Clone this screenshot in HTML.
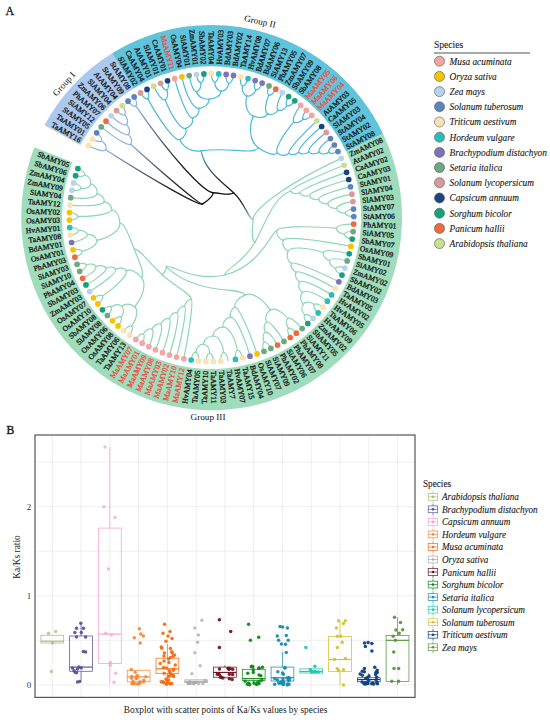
<!DOCTYPE html><html><head><meta charset="utf-8"><style>html,body{margin:0;padding:0;background:#fff;}svg{display:block;font-family:"Liberation Serif",serif;}</style></head><body>
<svg width="550" height="722" viewBox="0 0 550 722">
<path d="M44.44,125.35 A190.4,192.6848 0 0 1 112.13,53.3 L133.45,88.51 A149.6,151.3952 0 0 0 80.26,145.12Z" fill="#abc9f0"/>
<path d="M112.13,53.3 A190.4,192.6848 0 0 1 383,133.69 L346.27,151.67 A149.6,151.3952 0 0 0 133.45,88.51Z" fill="#5fc3dc"/>
<path d="M383,133.69 A190.4,192.6848 0 1 1 34.36,147.22 L72.34,162.3 A149.6,151.3952 0 1 0 346.27,151.67Z" fill="#9edcbc"/>
<defs><linearGradient id="g1" gradientUnits="userSpaceOnUse" x1="202.53" y1="204.02" x2="105.65" y2="149.71"><stop offset="0" stop-color="#111"/><stop offset="0.35" stop-color="#222"/><stop offset="1" stop-color="#8fb2e4"/></linearGradient><linearGradient id="g2" gradientUnits="userSpaceOnUse" x1="202.53" y1="204.02" x2="130.73" y2="144.24"><stop offset="0" stop-color="#111"/><stop offset="0.35" stop-color="#222"/><stop offset="1" stop-color="#8fb2e4"/></linearGradient><linearGradient id="g3" gradientUnits="userSpaceOnUse" x1="213.16" y1="192.75" x2="135.84" y2="105.99"><stop offset="0" stop-color="#111"/><stop offset="0.35" stop-color="#222"/><stop offset="1" stop-color="#8fb2e4"/></linearGradient><linearGradient id="g4" gradientUnits="userSpaceOnUse" x1="233.57" y1="192.68" x2="201.17" y2="150.93"><stop offset="0" stop-color="#111"/><stop offset="0.35" stop-color="#222"/><stop offset="1" stop-color="#4fb9d9"/></linearGradient><linearGradient id="g5" gradientUnits="userSpaceOnUse" x1="233.57" y1="192.68" x2="252.96" y2="219.43"><stop offset="0" stop-color="#111"/><stop offset="0.35" stop-color="#222"/><stop offset="1" stop-color="#8ed7b4"/></linearGradient></defs>
<g fill="none" stroke-width="1.2" stroke-linecap="round"><path d="M202.53,204.02 C199.49,206.1 156.4,182.22 105.65,149.71" stroke="url(#g1)" stroke-width="1.3"/><path d="M105.65,149.71 C104.21,152.02 96.57,150.12 88.58,145.43" stroke="#8fb2e4"/><path d="M105.65,149.71 C107.1,147.4 105.25,143.39 101.44,140.74" stroke="#8fb2e4"/><path d="M101.44,140.74 C100.35,142.34 96.33,141.59 92.46,139.03" stroke="#8fb2e4"/><path d="M101.44,140.74 C102.53,139.14 100.41,135.6 96.67,132.85" stroke="#8fb2e4"/><path d="M202.53,204.02 C200.72,205.26 168.58,178.57 130.73,144.24" stroke="url(#g2)" stroke-width="1.3"/><path d="M130.73,144.24 C128.78,146.44 115.55,138.69 101.2,126.9" stroke="#8fb2e4"/><path d="M130.73,144.24 C132.68,142.04 131.69,137.64 128.4,134.35" stroke="#8fb2e4"/><path d="M128.4,134.35 C126.34,136.46 116.31,130.59 106.02,121.2" stroke="#8fb2e4"/><path d="M128.4,134.35 C130.47,132.24 129.68,127.78 126.55,124.35" stroke="#8fb2e4"/><path d="M126.55,124.35 C124.56,126.2 117.67,122.37 111.14,115.75" stroke="#8fb2e4"/><path d="M126.55,124.35 C128.53,122.49 127.76,118.14 124.77,114.58" stroke="#8fb2e4"/><path d="M124.77,114.58 C123.31,115.84 119.61,114.07 116.52,110.59" stroke="#8fb2e4"/><path d="M124.77,114.58 C126.23,113.32 125.07,109.35 122.17,105.72" stroke="#8fb2e4"/><path d="M202.53,204.02 C207.38,200.7 212.87,197.42 213.16,192.75" stroke="#111" stroke-width="1.3"/><path d="M213.16,192.75 C204.18,192.18 169.85,156.09 135.84,105.99" stroke="url(#g3)" stroke-width="1.3"/><path d="M135.84,105.99 C134.26,107.09 130.77,104.93 128.06,101.15" stroke="#8fb2e4"/><path d="M135.84,105.99 C137.43,104.89 136.69,100.82 134.17,96.9" stroke="#8fb2e4"/><path d="M213.16,192.75 C222.14,193.33 230.5,196.17 233.57,192.68" stroke="#111" stroke-width="1.3"/><path d="M233.57,192.68 C221.58,181.85 204.07,169.46 201.17,150.93" stroke="url(#g4)" stroke-width="1.3"/><path d="M201.17,150.93 C192.69,152.29 183.31,148.17 179.81,139.57" stroke="#4fb9d9"/><path d="M179.81,139.57 C175.3,141.46 160.97,123.26 147.75,98.61" stroke="#4fb9d9"/><path d="M147.75,98.61 C146.06,99.54 142.81,97.02 140.5,92.97" stroke="#4fb9d9"/><path d="M147.75,98.61 C149.43,97.68 149.12,93.56 147.02,89.39" stroke="#4fb9d9"/><path d="M179.81,139.57 C184.32,137.69 187.11,132.92 185.82,128.44" stroke="#4fb9d9"/><path d="M185.82,128.44 C181.19,129.81 171.93,117.12 165.08,99.75" stroke="#4fb9d9"/><path d="M165.08,99.75 C162.57,100.77 157.48,94.7 153.72,86.16" stroke="#4fb9d9"/><path d="M165.08,99.75 C167.58,98.74 168.4,94.4 166.86,89.99" stroke="#4fb9d9"/><path d="M166.86,89.99 C165.05,90.64 162.23,87.64 160.57,83.28" stroke="#4fb9d9"/><path d="M166.86,89.99 C168.67,89.34 168.99,85.21 167.56,80.77" stroke="#4fb9d9"/><path d="M185.82,128.44 C190.44,127.07 193.62,122.6 192.75,118.01" stroke="#4fb9d9"/><path d="M192.75,118.01 C188.77,118.78 180.67,101.21 174.68,78.63" stroke="#4fb9d9"/><path d="M192.75,118.01 C196.72,117.24 199.58,113.08 199.04,108.43" stroke="#4fb9d9"/><path d="M199.04,108.43 C193.43,109.1 185.75,95.16 181.89,76.87" stroke="#4fb9d9"/><path d="M199.04,108.43 C204.65,107.77 209.2,103.9 209.11,99.22" stroke="#4fb9d9"/><path d="M209.11,99.22 C202.81,99.36 197.24,96.24 196.69,91.6" stroke="#4fb9d9"/><path d="M196.69,91.6 C194.01,91.92 190.64,84.73 189.18,75.49" stroke="#4fb9d9"/><path d="M196.69,91.6 C199.37,91.27 201.27,87.29 200.9,82.63" stroke="#4fb9d9"/><path d="M200.9,82.63 C198.99,82.78 197.03,79.15 196.54,74.5" stroke="#4fb9d9"/><path d="M200.9,82.63 C202.82,82.47 204.18,78.57 203.93,73.9" stroke="#4fb9d9"/><path d="M209.11,99.22 C215.4,99.09 220.83,95.73 221.19,91.07" stroke="#4fb9d9"/><path d="M221.19,91.07 C217.6,90.79 214.74,86.91 214.86,82.23" stroke="#4fb9d9"/><path d="M214.86,82.23 C212.94,82.19 211.36,78.37 211.35,73.69" stroke="#4fb9d9"/><path d="M214.86,82.23 C216.78,82.28 218.54,78.55 218.77,73.88" stroke="#4fb9d9"/><path d="M221.19,91.07 C224.78,91.35 228.18,87.95 228.77,83.31" stroke="#4fb9d9"/><path d="M228.77,83.31 C226.87,83.07 225.69,79.1 226.17,74.45" stroke="#4fb9d9"/><path d="M228.77,83.31 C230.68,83.56 232.81,80.03 233.53,75.41" stroke="#4fb9d9"/><path d="M201.17,150.93 C228.47,146.55 253.28,155.46 258.44,147.77" stroke="#4fb9d9"/><path d="M258.44,147.77 C250.72,142.46 247.87,129.03 253.18,116.07" stroke="#4fb9d9"/><path d="M253.18,116.07 C247.24,113.58 244.29,104.8 246.89,95.82" stroke="#4fb9d9"/><path d="M246.89,95.82 C243.44,94.8 241.44,90.41 242.51,85.86" stroke="#4fb9d9"/><path d="M242.51,85.86 C240.64,85.41 239.88,81.34 240.83,76.77" stroke="#4fb9d9"/><path d="M242.51,85.86 C244.37,86.3 246.86,83.02 248.04,78.5" stroke="#4fb9d9"/><path d="M246.89,95.82 C250.34,96.85 254.37,94.24 255.9,89.83" stroke="#4fb9d9"/><path d="M255.9,89.83 C254.09,89.19 253.75,85.06 255.16,80.61" stroke="#4fb9d9"/><path d="M255.9,89.83 C257.71,90.47 260.52,87.47 262.17,83.1" stroke="#4fb9d9"/><path d="M253.18,116.07 C259.12,118.56 265.53,117.82 267.75,113.72" stroke="#4fb9d9"/><path d="M267.75,113.72 C264.43,111.89 264.86,103.65 268.81,95.2" stroke="#4fb9d9"/><path d="M268.81,95.2 C267.08,94.37 267.16,90.23 269.03,85.95" stroke="#4fb9d9"/><path d="M268.81,95.2 C270.55,96.03 273.65,93.34 275.74,89.16" stroke="#4fb9d9"/><path d="M267.75,113.72 C271.06,115.56 275.68,113.99 278.13,110.03" stroke="#4fb9d9"/><path d="M278.13,110.03 C275.84,108.58 277.68,100.84 282.27,92.72" stroke="#4fb9d9"/><path d="M278.13,110.03 C280.42,111.48 284.37,109.58 286.97,105.72" stroke="#4fb9d9"/><path d="M286.97,105.72 C285.38,104.63 286.11,100.55 288.61,96.62" stroke="#4fb9d9"/><path d="M286.97,105.72 C288.56,106.82 292.04,104.65 294.74,100.85" stroke="#4fb9d9"/><path d="M258.44,147.77 C266.16,153.07 274.13,156.12 277.44,152.86" stroke="#4fb9d9"/><path d="M277.44,152.86 C274.48,149.78 281.76,135.95 293.89,121.84" stroke="#4fb9d9"/><path d="M293.89,121.84 C291.85,120.05 294.86,112.69 300.65,105.4" stroke="#4fb9d9"/><path d="M293.89,121.84 C295.93,123.63 300.12,122.39 303.29,118.98" stroke="#4fb9d9"/><path d="M303.29,118.98 C301.89,117.65 303.23,113.74 306.31,110.25" stroke="#4fb9d9"/><path d="M303.29,118.98 C304.68,120.31 308.46,118.72 311.71,115.4" stroke="#4fb9d9"/><path d="M277.44,152.86 C280.39,155.94 285.5,156.25 289.07,153.29" stroke="#4fb9d9"/><path d="M289.07,153.29 C287.3,151.11 299.75,136.54 316.84,120.82" stroke="#4fb9d9"/><path d="M289.07,153.29 C290.84,155.47 295.22,155.06 298.94,152.28" stroke="#4fb9d9"/><path d="M298.94,152.28 C297.2,149.9 307.38,138.35 321.69,126.51" stroke="#4fb9d9"/><path d="M298.94,152.28 C300.67,154.66 305.13,154.56 308.98,151.97" stroke="#4fb9d9"/><path d="M308.98,151.97 C307.35,149.49 315.06,140.75 326.23,132.45" stroke="#4fb9d9"/><path d="M308.98,151.97 C310.61,154.44 315.08,154.56 319.04,152.15" stroke="#4fb9d9"/><path d="M319.04,152.15 C317.64,149.81 322.74,143.75 330.47,138.61" stroke="#4fb9d9"/><path d="M319.04,152.15 C320.43,154.49 324.8,154.61 328.84,152.36" stroke="#4fb9d9"/><path d="M328.84,152.36 C327.92,150.65 330.39,147.35 334.37,145" stroke="#4fb9d9"/><path d="M328.84,152.36 C329.77,154.06 333.84,153.72 337.95,151.58" stroke="#4fb9d9"/><path d="M233.57,192.68 C245.57,203.52 248.35,219.22 252.96,219.43" stroke="url(#g5)" stroke-width="1.3"/><path d="M252.96,219.43 C253.43,208.65 290.66,181.44 341.18,158.33" stroke="#8ed7b4"/><path d="M252.96,219.43 C252.5,230.2 250.99,239.99 255.02,242.28" stroke="#8ed7b4"/><path d="M255.02,242.28 C266.18,222.16 273.21,196.9 290.75,191.01" stroke="#8ed7b4"/><path d="M290.75,191.01 C290,188.73 313.93,177.16 344.06,165.26" stroke="#8ed7b4"/><path d="M290.75,191.01 C291.5,193.29 295.65,194.18 300.11,192.93" stroke="#8ed7b4"/><path d="M300.11,192.93 C299.42,190.4 320.27,181.15 346.58,172.32" stroke="#8ed7b4"/><path d="M300.11,192.93 C300.79,195.47 304.93,196.74 309.44,195.73" stroke="#8ed7b4"/><path d="M309.44,195.73 C308.84,192.98 326.45,185.69 348.73,179.51" stroke="#8ed7b4"/><path d="M309.44,195.73 C310.04,198.49 314.14,200.13 318.69,199.35" stroke="#8ed7b4"/><path d="M318.69,199.35 C318.21,196.44 332.45,190.8 350.5,186.8" stroke="#8ed7b4"/><path d="M318.69,199.35 C319.18,202.27 323.2,204.23 327.79,203.68" stroke="#8ed7b4"/><path d="M327.79,203.68 C327.44,200.72 338.23,196.45 351.9,194.17" stroke="#8ed7b4"/><path d="M327.79,203.68 C328.13,206.63 332.07,208.78 336.67,208.44" stroke="#8ed7b4"/><path d="M336.67,208.44 C336.48,205.72 343.74,202.65 352.92,201.61" stroke="#8ed7b4"/><path d="M336.67,208.44 C336.87,211.17 340.71,213.28 345.33,213.12" stroke="#8ed7b4"/><path d="M345.33,213.12 C345.26,211.18 348.94,209.37 353.55,209.09" stroke="#8ed7b4"/><path d="M345.33,213.12 C345.39,215.06 349.18,216.63 353.8,216.6" stroke="#8ed7b4"/><path d="M255.02,242.28 C243.86,262.39 223.65,270.43 224.69,274.99" stroke="#8ed7b4"/><path d="M224.69,274.99 C260.54,266.61 272.41,229.73 276.94,230.63" stroke="#8ed7b4"/><path d="M276.94,230.63 C277.72,226.62 304.33,225.53 336.55,228.29" stroke="#8ed7b4"/><path d="M336.55,228.29 C336.78,225.57 344.42,223.68 353.65,224.1" stroke="#8ed7b4"/><path d="M336.55,228.29 C336.33,231.01 339.8,233.7 344.38,234.28" stroke="#8ed7b4"/><path d="M344.38,234.28 C344.62,232.35 348.53,231.14 353.13,231.59" stroke="#8ed7b4"/><path d="M344.38,234.28 C344.14,236.21 347.64,238.35 352.21,239.04" stroke="#8ed7b4"/><path d="M276.94,230.63 C276.16,234.65 278.73,238.98 283.14,240.39" stroke="#8ed7b4"/><path d="M283.14,240.39 C284.42,236.28 314.71,238.94 350.92,246.44" stroke="#8ed7b4"/><path d="M283.14,240.39 C281.86,244.49 283.91,249.24 288.15,251.09" stroke="#8ed7b4"/><path d="M288.15,251.09 C290.13,246.47 305.73,247.03 323.39,252.55" stroke="#8ed7b4"/><path d="M323.39,252.55 C324.26,249.71 335.82,250.23 349.24,253.75" stroke="#8ed7b4"/><path d="M323.39,252.55 C322.52,255.39 325.25,258.97 329.6,260.55" stroke="#8ed7b4"/><path d="M329.6,260.55 C330.51,257.98 338.38,258.15 347.19,260.97" stroke="#8ed7b4"/><path d="M329.6,260.55 C328.69,263.12 331.35,266.63 335.64,268.38" stroke="#8ed7b4"/><path d="M335.64,268.38 C336.36,266.58 340.44,266.43 344.77,268.07" stroke="#8ed7b4"/><path d="M335.64,268.38 C334.92,270.18 337.75,273.16 341.99,275.03" stroke="#8ed7b4"/><path d="M288.15,251.09 C286.18,255.71 287.41,261.17 291.42,263.48" stroke="#8ed7b4"/><path d="M291.42,263.48 C292.77,261.09 314.04,269.31 338.85,281.83" stroke="#8ed7b4"/><path d="M291.42,263.48 C290.08,265.87 292.05,269.82 295.94,272.35" stroke="#8ed7b4"/><path d="M295.94,272.35 C297.59,269.74 315.26,276.95 335.36,288.46" stroke="#8ed7b4"/><path d="M295.94,272.35 C294.29,274.95 295.88,279.23 299.62,281.97" stroke="#8ed7b4"/><path d="M299.62,281.97 C301.68,279.1 315.96,284.85 331.54,294.9" stroke="#8ed7b4"/><path d="M299.62,281.97 C297.57,284.85 298.67,289.51 302.25,292.46" stroke="#8ed7b4"/><path d="M302.25,292.46 C304.9,289.17 316.11,292.98 327.4,301.13" stroke="#8ed7b4"/><path d="M302.25,292.46 C299.59,295.75 300,300.89 303.38,304.08" stroke="#8ed7b4"/><path d="M303.38,304.08 C305.83,301.41 310.61,301.57 314.15,304.57" stroke="#8ed7b4"/><path d="M314.15,304.57 C315.38,303.08 319.32,304.22 322.93,307.12" stroke="#8ed7b4"/><path d="M314.15,304.57 C312.92,306.06 314.7,309.78 318.17,312.88" stroke="#8ed7b4"/><path d="M303.38,304.08 C300.93,306.74 301.43,311.55 304.64,314.91" stroke="#8ed7b4"/><path d="M304.64,314.91 C306.02,313.56 309.81,315.1 313.11,318.38" stroke="#8ed7b4"/><path d="M304.64,314.91 C303.26,316.26 304.65,320.15 307.78,323.6" stroke="#8ed7b4"/><path d="M224.69,274.99 C194.21,282.11 169.33,263.47 166.18,266.89" stroke="#8ed7b4"/><path d="M166.18,266.89 C197.36,296.32 241.39,286.33 245.1,294.89" stroke="#8ed7b4"/><path d="M245.1,294.89 C251.68,291.97 262.72,298.32 270.2,310.13" stroke="#8ed7b4"/><path d="M270.2,310.13 C274.3,307.47 282.04,311.08 287.64,318.51" stroke="#8ed7b4"/><path d="M287.64,318.51 C289.79,316.86 296.3,321.32 302.18,328.53" stroke="#8ed7b4"/><path d="M287.64,318.51 C285.49,320.17 285.85,324.58 288.51,328.4" stroke="#8ed7b4"/><path d="M288.51,328.4 C290.08,327.29 293.59,329.41 296.34,333.16" stroke="#8ed7b4"/><path d="M288.51,328.4 C286.94,329.52 287.72,333.58 290.27,337.48" stroke="#8ed7b4"/><path d="M270.2,310.13 C266.1,312.79 264.33,318.03 266.5,322.16" stroke="#8ed7b4"/><path d="M266.5,322.16 C269.09,320.77 276.93,329.39 283.99,341.47" stroke="#8ed7b4"/><path d="M266.5,322.16 C263.9,323.56 263.34,328.04 265.32,332.27" stroke="#8ed7b4"/><path d="M265.32,332.27 C267.76,331.1 273.22,336.83 277.5,345.12" stroke="#8ed7b4"/><path d="M265.32,332.27 C262.89,333.44 262.33,337.83 264.15,342.13" stroke="#8ed7b4"/><path d="M264.15,342.13 C265.91,341.36 268.92,344.17 270.84,348.42" stroke="#8ed7b4"/><path d="M264.15,342.13 C262.38,342.89 262.31,347.03 264.02,351.37" stroke="#8ed7b4"/><path d="M245.1,294.89 C238.53,297.81 233.75,302.93 234.92,307.45" stroke="#8ed7b4"/><path d="M234.92,307.45 C238.26,306.57 248.19,327.38 257.05,353.96" stroke="#8ed7b4"/><path d="M234.92,307.45 C231.57,308.34 229.5,312.62 230.36,317.21" stroke="#8ed7b4"/><path d="M230.36,317.21 C234.95,316.32 243.73,333.66 249.96,356.17" stroke="#8ed7b4"/><path d="M230.36,317.21 C225.77,318.09 222.35,322.26 222.82,326.91" stroke="#8ed7b4"/><path d="M222.82,326.91 C217.4,327.49 212.97,331.32 213.03,336" stroke="#8ed7b4"/><path d="M213.03,336 C207.99,336.06 203.63,339.56 203.32,344.23" stroke="#8ed7b4"/><path d="M203.32,344.23 C199.73,343.99 196.36,347.42 195.82,352.06" stroke="#8ed7b4"/><path d="M195.82,352.06 C197.72,352.29 198.94,356.24 198.51,360.9" stroke="#8ed7b4"/><path d="M195.82,352.06 C193.91,351.83 191.81,355.38 191.15,360.01" stroke="#8ed7b4"/><path d="M203.32,344.23 C206.91,344.47 209.81,348.32 209.74,352.99" stroke="#8ed7b4"/><path d="M209.74,352.99 C211.66,353.02 213.28,356.82 213.34,361.5" stroke="#8ed7b4"/><path d="M209.74,352.99 C207.82,352.97 206.1,356.72 205.92,361.39" stroke="#8ed7b4"/><path d="M213.03,336 C218.07,335.93 222.86,343.14 223.69,352.45" stroke="#8ed7b4"/><path d="M223.69,352.45 C225.6,352.28 227.6,355.89 228.14,360.53" stroke="#8ed7b4"/><path d="M223.69,352.45 C221.78,352.63 220.45,356.54 220.75,361.21" stroke="#8ed7b4"/><path d="M222.82,326.91 C228.25,326.34 234.82,336.68 237.51,350.44" stroke="#8ed7b4"/><path d="M237.51,350.44 C239.39,350.07 241.75,353.45 242.77,358.01" stroke="#8ed7b4"/><path d="M237.51,350.44 C235.62,350.82 234.71,354.85 235.49,359.46" stroke="#8ed7b4"/><path d="M166.18,266.89 C167.02,267.68 165.24,271.18 162.19,274.7" stroke="#8ed7b4"/><path d="M162.19,274.7 C176.81,287.65 192.24,294.88 191.1,299.41" stroke="#8ed7b4"/><path d="M191.1,299.41 C193.41,300 190.15,326.64 183.83,358.74" stroke="#8ed7b4"/><path d="M191.1,299.41 C188.8,298.82 185.83,301.88 184.46,306.35" stroke="#8ed7b4"/><path d="M184.46,306.35 C186.94,307.13 183.42,329.89 176.6,357.08" stroke="#8ed7b4"/><path d="M184.46,306.35 C181.99,305.57 178.7,308.41 177.11,312.8" stroke="#8ed7b4"/><path d="M177.11,312.8 C179.72,313.77 176.3,332.71 169.46,355.04" stroke="#8ed7b4"/><path d="M177.11,312.8 C174.49,311.83 170.92,314.44 169.11,318.74" stroke="#8ed7b4"/><path d="M169.11,318.74 C171.8,319.9 168.82,335.08 162.43,352.63" stroke="#8ed7b4"/><path d="M169.11,318.74 C166.42,317.58 162.62,319.96 160.61,324.17" stroke="#8ed7b4"/><path d="M160.61,324.17 C163.26,325.46 161,336.96 155.54,349.85" stroke="#8ed7b4"/><path d="M160.61,324.17 C157.97,322.87 154.06,325.07 151.86,329.18" stroke="#8ed7b4"/><path d="M151.86,329.18 C154.23,330.48 152.88,338.32 148.8,346.71" stroke="#8ed7b4"/><path d="M151.86,329.18 C149.48,327.87 145.66,330.01 143.3,334.03" stroke="#8ed7b4"/><path d="M143.3,334.03 C144.95,335.03 144.48,339.14 142.23,343.22" stroke="#8ed7b4"/><path d="M143.3,334.03 C141.65,333.04 138.31,335.43 135.85,339.39" stroke="#8ed7b4"/><path d="M162.19,274.7 C147.58,261.75 138.46,247.22 134.17,248.96" stroke="#8ed7b4"/><path d="M134.17,248.96 C139.67,262.86 145.1,274.65 141.58,277.68" stroke="#8ed7b4"/><path d="M141.58,277.68 C146.45,283.49 143.72,296.18 134.59,306.74" stroke="#8ed7b4"/><path d="M134.59,306.74 C138.39,310.1 137.2,318.7 131.68,326.2" stroke="#8ed7b4"/><path d="M131.68,326.2 C133.22,327.36 132.33,331.4 129.67,335.22" stroke="#8ed7b4"/><path d="M131.68,326.2 C130.14,325.04 126.58,327.06 123.72,330.74" stroke="#8ed7b4"/><path d="M134.59,306.74 C130.8,303.39 125.24,303.05 121.94,306.32" stroke="#8ed7b4"/><path d="M121.94,306.32 C124.45,308.92 124.07,313.75 120.94,317.18" stroke="#8ed7b4"/><path d="M120.94,317.18 C122.35,318.5 121.05,322.42 118.01,325.94" stroke="#8ed7b4"/><path d="M120.94,317.18 C119.53,315.87 115.77,317.5 112.55,320.86" stroke="#8ed7b4"/><path d="M121.94,306.32 C119.42,303.71 114.65,303.99 111.18,307.08" stroke="#8ed7b4"/><path d="M111.18,307.08 C112.45,308.54 110.75,312.31 107.36,315.49" stroke="#8ed7b4"/><path d="M111.18,307.08 C109.91,305.62 106.01,306.85 102.46,309.85" stroke="#8ed7b4"/><path d="M141.58,277.68 C136.71,271.86 130.32,268.49 126.39,270.95" stroke="#8ed7b4"/><path d="M126.39,270.95 C128.23,273.96 117.58,285.18 102.52,296.01" stroke="#8ed7b4"/><path d="M102.52,296.01 C103.63,297.59 101.55,301.16 97.86,303.96" stroke="#8ed7b4"/><path d="M102.52,296.01 C101.4,294.42 97.39,295.24 93.56,297.84" stroke="#8ed7b4"/><path d="M126.39,270.95 C124.54,267.93 119.87,267.16 115.8,269.36" stroke="#8ed7b4"/><path d="M115.8,269.36 C117.17,271.97 105.44,281.9 89.58,291.5" stroke="#8ed7b4"/><path d="M115.8,269.36 C114.42,266.75 109.99,266.19 105.82,268.19" stroke="#8ed7b4"/><path d="M105.82,268.19 C107.07,270.88 98.19,278.39 85.94,284.96" stroke="#8ed7b4"/><path d="M105.82,268.19 C104.56,265.5 100.16,264.72 95.89,266.53" stroke="#8ed7b4"/><path d="M95.89,266.53 C96.94,269.05 91.02,274.3 82.64,278.24" stroke="#8ed7b4"/><path d="M95.89,266.53 C94.85,264.01 90.55,263.24 86.22,264.88" stroke="#8ed7b4"/><path d="M86.22,264.88 C86.89,266.7 83.98,269.6 79.69,271.35" stroke="#8ed7b4"/><path d="M86.22,264.88 C85.55,263.06 81.47,262.79 77.1,264.31" stroke="#8ed7b4"/><path d="M134.17,248.96 C128.67,235.06 124.57,222.73 119.96,223.01" stroke="#8ed7b4"/><path d="M119.96,223.01 C120.35,229.91 110.39,237.68 96.79,240.38" stroke="#8ed7b4"/><path d="M96.79,240.38 C97.51,244.13 90.98,249.07 82.04,251.4" stroke="#8ed7b4"/><path d="M82.04,251.4 C82.51,253.28 79.32,255.86 74.87,257.15" stroke="#8ed7b4"/><path d="M82.04,251.4 C81.56,249.52 77.52,248.83 73.02,249.87" stroke="#8ed7b4"/><path d="M96.79,240.38 C96.06,236.63 91.92,234.04 87.34,234.66" stroke="#8ed7b4"/><path d="M87.34,234.66 C87.7,237.37 80.65,240.9 71.55,242.51" stroke="#8ed7b4"/><path d="M87.34,234.66 C86.98,231.96 83.01,230.1 78.41,230.54" stroke="#8ed7b4"/><path d="M78.41,230.54 C78.6,232.48 75.04,234.52 70.45,235.09" stroke="#8ed7b4"/><path d="M78.41,230.54 C78.23,228.61 74.35,227.29 69.74,227.61" stroke="#8ed7b4"/><path d="M119.96,223.01 C119.56,216.1 116.3,210.15 111.7,209.79" stroke="#8ed7b4"/><path d="M111.7,209.79 C111.99,205.98 108.72,202.33 104.15,201.65" stroke="#8ed7b4"/><path d="M104.15,201.65 C104.66,198.14 101.56,194.52 97.03,193.57" stroke="#8ed7b4"/><path d="M97.03,193.57 C97.89,189.41 95.18,185.05 90.73,183.8" stroke="#8ed7b4"/><path d="M90.73,183.8 C91.69,180.29 89.05,176.26 84.67,174.78" stroke="#8ed7b4"/><path d="M84.67,174.78 C84.06,176.62 79.99,177.03 75.57,175.67" stroke="#8ed7b4"/><path d="M84.67,174.78 C85.27,172.94 82.26,170.14 77.92,168.55" stroke="#8ed7b4"/><path d="M90.73,183.8 C89.77,187.31 85.46,189.41 80.95,188.4" stroke="#8ed7b4"/><path d="M80.95,188.4 C80.53,190.29 76.53,191.13 71.99,190.24" stroke="#8ed7b4"/><path d="M80.95,188.4 C81.36,186.5 78.08,184.03 73.59,182.91" stroke="#8ed7b4"/><path d="M97.03,193.57 C96.18,197.73 84.5,199.59 70.77,197.65" stroke="#8ed7b4"/><path d="M104.15,201.65 C103.64,205.16 88.35,206.73 69.94,205.11" stroke="#8ed7b4"/><path d="M111.7,209.79 C111.41,213.59 96.28,216.59 77.8,216.43" stroke="#8ed7b4"/><path d="M77.8,216.43 C77.79,218.37 74.04,220.03 69.42,220.11" stroke="#8ed7b4"/><path d="M77.8,216.43 C77.82,214.49 74.1,212.77 69.49,212.6" stroke="#8ed7b4"/></g>
<circle cx="88.58" cy="145.43" r="2.85" fill="#fbe2b2"/>
<circle cx="92.46" cy="139.03" r="2.85" fill="#fbe2b2"/>
<circle cx="96.67" cy="132.85" r="2.85" fill="#5b86bd"/>
<circle cx="101.2" cy="126.9" r="2.85" fill="#6fa782"/>
<circle cx="106.02" cy="121.2" r="2.85" fill="#f06a40"/>
<circle cx="111.14" cy="115.75" r="2.85" fill="#b9d3ee"/>
<circle cx="116.52" cy="110.59" r="2.85" fill="#d99a98"/>
<circle cx="122.17" cy="105.72" r="2.85" fill="#c8e090"/>
<circle cx="128.06" cy="101.15" r="2.85" fill="#5b86bd"/>
<circle cx="134.17" cy="96.9" r="2.85" fill="#5b86bd"/>
<circle cx="140.5" cy="92.97" r="2.85" fill="#d99a98"/>
<circle cx="147.02" cy="89.39" r="2.85" fill="#1a4480"/>
<circle cx="153.72" cy="86.16" r="2.85" fill="#c8e090"/>
<circle cx="160.57" cy="83.28" r="2.85" fill="#d99a98"/>
<circle cx="167.56" cy="80.77" r="2.85" fill="#1a4480"/>
<circle cx="174.68" cy="78.63" r="2.85" fill="#f4a4a4"/>
<circle cx="181.89" cy="76.87" r="2.85" fill="#f5c400"/>
<circle cx="189.18" cy="75.49" r="2.85" fill="#6fa782"/>
<circle cx="196.54" cy="74.5" r="2.85" fill="#b9d3ee"/>
<circle cx="203.93" cy="73.9" r="2.85" fill="#16a07e"/>
<circle cx="211.35" cy="73.69" r="2.85" fill="#fbe2b2"/>
<circle cx="218.77" cy="73.88" r="2.85" fill="#2bbcbc"/>
<circle cx="226.17" cy="74.45" r="2.85" fill="#7d73b8"/>
<circle cx="233.53" cy="75.41" r="2.85" fill="#7d73b8"/>
<circle cx="240.83" cy="76.77" r="2.85" fill="#fbe2b2"/>
<circle cx="248.04" cy="78.5" r="2.85" fill="#2bbcbc"/>
<circle cx="255.16" cy="80.61" r="2.85" fill="#7d73b8"/>
<circle cx="262.17" cy="83.1" r="2.85" fill="#7d73b8"/>
<circle cx="269.03" cy="85.95" r="2.85" fill="#6fa782"/>
<circle cx="275.74" cy="89.16" r="2.85" fill="#f06a40"/>
<circle cx="282.27" cy="92.72" r="2.85" fill="#b9d3ee"/>
<circle cx="288.61" cy="96.62" r="2.85" fill="#16a07e"/>
<circle cx="294.74" cy="100.85" r="2.85" fill="#16a07e"/>
<circle cx="300.65" cy="105.4" r="2.85" fill="#f4a4a4"/>
<circle cx="306.31" cy="110.25" r="2.85" fill="#f4a4a4"/>
<circle cx="311.71" cy="115.4" r="2.85" fill="#f4a4a4"/>
<circle cx="316.84" cy="120.82" r="2.85" fill="#c8e090"/>
<circle cx="321.69" cy="126.51" r="2.85" fill="#1a4480"/>
<circle cx="326.23" cy="132.45" r="2.85" fill="#d99a98"/>
<circle cx="330.47" cy="138.61" r="2.85" fill="#5b86bd"/>
<circle cx="334.37" cy="145" r="2.85" fill="#5b86bd"/>
<circle cx="337.95" cy="151.58" r="2.85" fill="#5b86bd"/>
<circle cx="341.18" cy="158.33" r="2.85" fill="#b9d3ee"/>
<circle cx="344.06" cy="165.26" r="2.85" fill="#c8e090"/>
<circle cx="346.58" cy="172.32" r="2.85" fill="#1a4480"/>
<circle cx="348.73" cy="179.51" r="2.85" fill="#1a4480"/>
<circle cx="350.5" cy="186.8" r="2.85" fill="#5b86bd"/>
<circle cx="351.9" cy="194.17" r="2.85" fill="#d99a98"/>
<circle cx="352.92" cy="201.61" r="2.85" fill="#d99a98"/>
<circle cx="353.55" cy="209.09" r="2.85" fill="#5b86bd"/>
<circle cx="353.8" cy="216.6" r="2.85" fill="#5b86bd"/>
<circle cx="353.65" cy="224.1" r="2.85" fill="#f06a40"/>
<circle cx="353.13" cy="231.59" r="2.85" fill="#6fa782"/>
<circle cx="352.21" cy="239.04" r="2.85" fill="#16a07e"/>
<circle cx="350.92" cy="246.44" r="2.85" fill="#f5c400"/>
<circle cx="349.24" cy="253.75" r="2.85" fill="#16a07e"/>
<circle cx="347.19" cy="260.97" r="2.85" fill="#6fa782"/>
<circle cx="344.77" cy="268.07" r="2.85" fill="#b9d3ee"/>
<circle cx="341.99" cy="275.03" r="2.85" fill="#16a07e"/>
<circle cx="338.85" cy="281.83" r="2.85" fill="#7d73b8"/>
<circle cx="335.36" cy="288.46" r="2.85" fill="#fbe2b2"/>
<circle cx="331.54" cy="294.9" r="2.85" fill="#2bbcbc"/>
<circle cx="327.4" cy="301.13" r="2.85" fill="#2bbcbc"/>
<circle cx="322.93" cy="307.12" r="2.85" fill="#fbe2b2"/>
<circle cx="318.17" cy="312.88" r="2.85" fill="#2bbcbc"/>
<circle cx="313.11" cy="318.38" r="2.85" fill="#b9d3ee"/>
<circle cx="307.78" cy="323.6" r="2.85" fill="#16a07e"/>
<circle cx="302.18" cy="328.53" r="2.85" fill="#6fa782"/>
<circle cx="296.34" cy="333.16" r="2.85" fill="#f06a40"/>
<circle cx="290.27" cy="337.48" r="2.85" fill="#f06a40"/>
<circle cx="283.99" cy="341.47" r="2.85" fill="#6fa782"/>
<circle cx="277.5" cy="345.12" r="2.85" fill="#f06a40"/>
<circle cx="270.84" cy="348.42" r="2.85" fill="#6fa782"/>
<circle cx="264.02" cy="351.37" r="2.85" fill="#6fa782"/>
<circle cx="257.05" cy="353.96" r="2.85" fill="#f5c400"/>
<circle cx="249.96" cy="356.17" r="2.85" fill="#7d73b8"/>
<circle cx="242.77" cy="358.01" r="2.85" fill="#fbe2b2"/>
<circle cx="235.49" cy="359.46" r="2.85" fill="#2bbcbc"/>
<circle cx="220.75" cy="361.21" r="2.85" fill="#fbe2b2"/>
<circle cx="213.34" cy="361.5" r="2.85" fill="#fbe2b2"/>
<circle cx="205.92" cy="361.39" r="2.85" fill="#fbe2b2"/>
<circle cx="198.51" cy="360.9" r="2.85" fill="#fbe2b2"/>
<circle cx="191.15" cy="360.01" r="2.85" fill="#2bbcbc"/>
<circle cx="183.83" cy="358.74" r="2.85" fill="#f4a4a4"/>
<circle cx="176.6" cy="357.08" r="2.85" fill="#f4a4a4"/>
<circle cx="169.46" cy="355.04" r="2.85" fill="#f4a4a4"/>
<circle cx="162.43" cy="352.63" r="2.85" fill="#f4a4a4"/>
<circle cx="155.54" cy="349.85" r="2.85" fill="#f4a4a4"/>
<circle cx="148.8" cy="346.71" r="2.85" fill="#f4a4a4"/>
<circle cx="142.23" cy="343.22" r="2.85" fill="#f4a4a4"/>
<circle cx="135.85" cy="339.39" r="2.85" fill="#f4a4a4"/>
<circle cx="129.67" cy="335.22" r="2.85" fill="#fbe2b2"/>
<circle cx="123.72" cy="330.74" r="2.85" fill="#fbe2b2"/>
<circle cx="118.01" cy="325.94" r="2.85" fill="#f5c400"/>
<circle cx="112.55" cy="320.86" r="2.85" fill="#f5c400"/>
<circle cx="107.36" cy="315.49" r="2.85" fill="#6fa782"/>
<circle cx="102.46" cy="309.85" r="2.85" fill="#16a07e"/>
<circle cx="97.86" cy="303.96" r="2.85" fill="#f5c400"/>
<circle cx="93.56" cy="297.84" r="2.85" fill="#f5c400"/>
<circle cx="89.58" cy="291.5" r="2.85" fill="#b9d3ee"/>
<circle cx="85.94" cy="284.96" r="2.85" fill="#16a07e"/>
<circle cx="82.64" cy="278.24" r="2.85" fill="#f06a40"/>
<circle cx="79.69" cy="271.35" r="2.85" fill="#6fa782"/>
<circle cx="77.1" cy="264.31" r="2.85" fill="#6fa782"/>
<circle cx="74.87" cy="257.15" r="2.85" fill="#f06a40"/>
<circle cx="73.02" cy="249.87" r="2.85" fill="#f5c400"/>
<circle cx="71.55" cy="242.51" r="2.85" fill="#7d73b8"/>
<circle cx="70.45" cy="235.09" r="2.85" fill="#fbe2b2"/>
<circle cx="69.74" cy="227.61" r="2.85" fill="#2bbcbc"/>
<circle cx="69.42" cy="220.11" r="2.85" fill="#f5c400"/>
<circle cx="69.49" cy="212.6" r="2.85" fill="#f5c400"/>
<circle cx="69.94" cy="205.11" r="2.85" fill="#fbe2b2"/>
<circle cx="70.77" cy="197.65" r="2.85" fill="#6fa782"/>
<circle cx="71.99" cy="190.24" r="2.85" fill="#b9d3ee"/>
<circle cx="73.59" cy="182.91" r="2.85" fill="#b9d3ee"/>
<circle cx="75.57" cy="175.67" r="2.85" fill="#16a07e"/>
<circle cx="77.92" cy="168.55" r="2.85" fill="#16a07e"/>
<g font-size="7.6" dominant-baseline="central" stroke-width="0.28">
<text x="80.44" y="140.66" transform="rotate(30.1 80.44 140.66)" text-anchor="end" fill="#111" stroke="#111">TaAMY16</text>
<text x="84.59" y="133.84" transform="rotate(33.09 84.59 133.84)" text-anchor="end" fill="#111" stroke="#111">TaAMY01</text>
<text x="89.08" y="127.25" transform="rotate(36.08 89.08 127.25)" text-anchor="end" fill="#111" stroke="#111">StAMY05</text>
<text x="93.9" y="120.9" transform="rotate(39.07 93.9 120.9)" text-anchor="end" fill="#111" stroke="#111">SiAMY12</text>
<text x="99.05" y="114.82" transform="rotate(42.06 99.05 114.82)" text-anchor="end" fill="#111" stroke="#111">PhAMY07</text>
<text x="104.5" y="109.02" transform="rotate(45.05 104.5 109.02)" text-anchor="end" fill="#111" stroke="#111">ZmAMY06</text>
<text x="110.24" y="103.52" transform="rotate(48.04 110.24 103.52)" text-anchor="end" fill="#111" stroke="#111">SlAMY04</text>
<text x="116.26" y="98.32" transform="rotate(51.03 116.26 98.32)" text-anchor="end" fill="#111" stroke="#111">AtAMY04</text>
<text x="122.53" y="93.45" transform="rotate(54.02 122.53 93.45)" text-anchor="end" fill="#111" stroke="#111">StAMY09</text>
<text x="129.05" y="88.92" transform="rotate(57.01 129.05 88.92)" text-anchor="end" fill="#111" stroke="#111">StAMY08</text>
<text x="135.8" y="84.74" transform="rotate(60 135.8 84.74)" text-anchor="end" fill="#111" stroke="#111">SlAMY02</text>
<text x="142.75" y="80.91" transform="rotate(62.99 142.75 80.91)" text-anchor="end" fill="#111" stroke="#111">CaAMY04</text>
<text x="149.89" y="77.47" transform="rotate(65.98 149.89 77.47)" text-anchor="end" fill="#111" stroke="#111">AtAMY01</text>
<text x="157.2" y="74.4" transform="rotate(68.97 157.2 74.4)" text-anchor="end" fill="#111" stroke="#111">SlAMY01</text>
<text x="164.65" y="71.72" transform="rotate(71.96 164.65 71.72)" text-anchor="end" fill="#111" stroke="#111">CaAMY01</text>
<text x="172.24" y="69.44" transform="rotate(74.95 172.24 69.44)" text-anchor="end" fill="#f04a42" stroke="#f04a42">MaAMY11</text>
<text x="179.93" y="67.57" transform="rotate(77.94 179.93 67.57)" text-anchor="end" fill="#111" stroke="#111">OsAMY04</text>
<text x="187.7" y="66.1" transform="rotate(80.93 187.7 66.1)" text-anchor="end" fill="#111" stroke="#111">SiAMY01</text>
<text x="195.54" y="65.04" transform="rotate(83.92 195.54 65.04)" text-anchor="end" fill="#111" stroke="#111">ZmAMY01</text>
<text x="203.43" y="64.4" transform="rotate(86.91 203.43 64.4)" text-anchor="end" fill="#111" stroke="#111">SbAMY02</text>
<text x="211.34" y="64.18" transform="rotate(89.9 211.34 64.18)" text-anchor="end" fill="#111" stroke="#111">TaAMY04</text>
<text x="219.24" y="64.38" transform="rotate(-87.11 219.24 64.38)" text-anchor="start" fill="#111" stroke="#111">HvAMY03</text>
<text x="227.13" y="64.99" transform="rotate(-84.12 227.13 64.99)" text-anchor="start" fill="#111" stroke="#111">BdAMY03</text>
<text x="234.98" y="66.02" transform="rotate(-81.13 234.98 66.02)" text-anchor="start" fill="#111" stroke="#111">BdAMY02</text>
<text x="242.76" y="67.46" transform="rotate(-78.14 242.76 67.46)" text-anchor="start" fill="#111" stroke="#111">TaAMY14</text>
<text x="250.45" y="69.3" transform="rotate(-75.15 250.45 69.3)" text-anchor="start" fill="#111" stroke="#111">HvAMY08</text>
<text x="258.04" y="71.56" transform="rotate(-72.16 258.04 71.56)" text-anchor="start" fill="#111" stroke="#111">BdAMY07</text>
<text x="265.51" y="74.21" transform="rotate(-69.17 265.51 74.21)" text-anchor="start" fill="#111" stroke="#111">BdAMY06</text>
<text x="272.83" y="77.25" transform="rotate(-66.18 272.83 77.25)" text-anchor="start" fill="#111" stroke="#111">SiAMY13</text>
<text x="279.98" y="80.67" transform="rotate(-63.19 279.98 80.67)" text-anchor="start" fill="#111" stroke="#111">PhAMY05</text>
<text x="286.94" y="84.47" transform="rotate(-60.2 286.94 84.47)" text-anchor="start" fill="#111" stroke="#111">ZmAMY07</text>
<text x="293.7" y="88.63" transform="rotate(-57.21 293.7 88.63)" text-anchor="start" fill="#111" stroke="#111">SbAMY09</text>
<text x="300.24" y="93.14" transform="rotate(-54.22 300.24 93.14)" text-anchor="start" fill="#111" stroke="#111">SbAMY08</text>
<text x="306.53" y="97.98" transform="rotate(-51.23 306.53 97.98)" text-anchor="start" fill="#f04a42" stroke="#f04a42">MaAMY05</text>
<text x="312.57" y="103.16" transform="rotate(-48.24 312.57 103.16)" text-anchor="start" fill="#f04a42" stroke="#f04a42">MaAMY06</text>
<text x="318.33" y="108.64" transform="rotate(-45.25 318.33 108.64)" text-anchor="start" fill="#f04a42" stroke="#f04a42">MaAMY04</text>
<text x="323.8" y="114.43" transform="rotate(-42.26 323.8 114.43)" text-anchor="start" fill="#111" stroke="#111">AtAMY03</text>
<text x="328.96" y="120.49" transform="rotate(-39.27 328.96 120.49)" text-anchor="start" fill="#111" stroke="#111">CaAMY05</text>
<text x="333.81" y="126.82" transform="rotate(-36.28 333.81 126.82)" text-anchor="start" fill="#111" stroke="#111">SlAMY03</text>
<text x="338.32" y="133.39" transform="rotate(-33.29 338.32 133.39)" text-anchor="start" fill="#111" stroke="#111">StAMY04</text>
<text x="342.49" y="140.2" transform="rotate(-30.3 342.49 140.2)" text-anchor="start" fill="#111" stroke="#111">StAMY02</text>
<text x="346.3" y="147.21" transform="rotate(-27.31 346.3 147.21)" text-anchor="start" fill="#111" stroke="#111">StAMY08</text>
<text x="349.75" y="154.42" transform="rotate(-24.32 349.75 154.42)" text-anchor="start" fill="#111" stroke="#111">ZmAMY08</text>
<text x="352.82" y="161.8" transform="rotate(-21.33 352.82 161.8)" text-anchor="start" fill="#111" stroke="#111">AtAMY02</text>
<text x="355.5" y="169.33" transform="rotate(-18.34 355.5 169.33)" text-anchor="start" fill="#111" stroke="#111">CaAMY02</text>
<text x="357.79" y="176.99" transform="rotate(-15.35 357.79 176.99)" text-anchor="start" fill="#111" stroke="#111">CaAMY03</text>
<text x="359.69" y="184.76" transform="rotate(-12.36 359.69 184.76)" text-anchor="start" fill="#111" stroke="#111">StAMY01</text>
<text x="361.18" y="192.62" transform="rotate(-9.37 361.18 192.62)" text-anchor="start" fill="#111" stroke="#111">SlAMY04</text>
<text x="362.26" y="200.55" transform="rotate(-6.38 362.26 200.55)" text-anchor="start" fill="#111" stroke="#111">SlAMY03</text>
<text x="362.93" y="208.53" transform="rotate(-3.39 362.93 208.53)" text-anchor="start" fill="#111" stroke="#111">StAMY07</text>
<text x="363.2" y="216.53" transform="rotate(-0.4 363.2 216.53)" text-anchor="start" fill="#111" stroke="#111">StAMY06</text>
<text x="363.05" y="224.53" transform="rotate(2.59 363.05 224.53)" text-anchor="start" fill="#111" stroke="#111">PhAMY01</text>
<text x="362.48" y="232.52" transform="rotate(5.58 362.48 232.52)" text-anchor="start" fill="#111" stroke="#111">SiAMY05</text>
<text x="361.51" y="240.46" transform="rotate(8.57 361.51 240.46)" text-anchor="start" fill="#111" stroke="#111">SbAMY07</text>
<text x="360.12" y="248.34" transform="rotate(11.56 360.12 248.34)" text-anchor="start" fill="#111" stroke="#111">OsAMY09</text>
<text x="358.34" y="256.14" transform="rotate(14.55 358.34 256.14)" text-anchor="start" fill="#111" stroke="#111">SbAMY01</text>
<text x="356.15" y="263.84" transform="rotate(17.54 356.15 263.84)" text-anchor="start" fill="#111" stroke="#111">SiAMY02</text>
<text x="353.57" y="271.4" transform="rotate(20.53 353.57 271.4)" text-anchor="start" fill="#111" stroke="#111">ZmAMY02</text>
<text x="350.61" y="278.82" transform="rotate(23.52 350.61 278.82)" text-anchor="start" fill="#111" stroke="#111">SbAMY02</text>
<text x="347.26" y="286.08" transform="rotate(26.51 347.26 286.08)" text-anchor="start" fill="#111" stroke="#111">BdAMY03</text>
<text x="343.55" y="293.15" transform="rotate(29.5 343.55 293.15)" text-anchor="start" fill="#111" stroke="#111">TaAMY05</text>
<text x="339.47" y="300.01" transform="rotate(32.49 339.47 300.01)" text-anchor="start" fill="#111" stroke="#111">HvAMY02</text>
<text x="335.05" y="306.65" transform="rotate(35.48 335.05 306.65)" text-anchor="start" fill="#111" stroke="#111">HvAMY05</text>
<text x="330.29" y="313.04" transform="rotate(38.47 330.29 313.04)" text-anchor="start" fill="#111" stroke="#111">TaAMY06</text>
<text x="325.21" y="319.18" transform="rotate(41.46 325.21 319.18)" text-anchor="start" fill="#111" stroke="#111">HvAMY09</text>
<text x="319.82" y="325.04" transform="rotate(44.45 319.82 325.04)" text-anchor="start" fill="#111" stroke="#111">ZmAMY02</text>
<text x="314.14" y="330.6" transform="rotate(47.44 314.14 330.6)" text-anchor="start" fill="#111" stroke="#111">SbAMY05</text>
<text x="308.17" y="335.86" transform="rotate(50.43 308.17 335.86)" text-anchor="start" fill="#111" stroke="#111">SiAMY11</text>
<text x="301.95" y="340.8" transform="rotate(53.42 301.95 340.8)" text-anchor="start" fill="#111" stroke="#111">PhAMY08</text>
<text x="295.47" y="345.4" transform="rotate(56.41 295.47 345.4)" text-anchor="start" fill="#111" stroke="#111">PhAMY07</text>
<text x="288.77" y="349.65" transform="rotate(59.4 288.77 349.65)" text-anchor="start" fill="#111" stroke="#111">SiAMY06</text>
<text x="281.86" y="353.55" transform="rotate(62.39 281.86 353.55)" text-anchor="start" fill="#111" stroke="#111">PhAMY02</text>
<text x="274.76" y="357.07" transform="rotate(65.38 274.76 357.07)" text-anchor="start" fill="#111" stroke="#111">SiAMY09</text>
<text x="267.48" y="360.22" transform="rotate(68.37 267.48 360.22)" text-anchor="start" fill="#111" stroke="#111">SiAMY07</text>
<text x="260.05" y="362.97" transform="rotate(71.36 260.05 362.97)" text-anchor="start" fill="#111" stroke="#111">OsAMY10</text>
<text x="252.5" y="365.33" transform="rotate(74.35 252.5 365.33)" text-anchor="start" fill="#111" stroke="#111">BdAMY04</text>
<text x="244.83" y="367.29" transform="rotate(77.34 244.83 367.29)" text-anchor="start" fill="#111" stroke="#111">TaAMY15</text>
<text x="237.06" y="368.84" transform="rotate(80.33 237.06 368.84)" text-anchor="start" fill="#111" stroke="#111">HvAMY07</text>
<text x="229.23" y="369.98" transform="rotate(83.32 229.23 369.98)" text-anchor="start" fill="#111" stroke="#111">TaAMY7</text>
<text x="221.36" y="370.7" transform="rotate(86.31 221.36 370.7)" text-anchor="start" fill="#111" stroke="#111">TaAMY03</text>
<text x="213.45" y="371.01" transform="rotate(89.3 213.45 371.01)" text-anchor="start" fill="#111" stroke="#111">TaAMY11</text>
<text x="205.54" y="370.9" transform="rotate(272.29 205.54 370.9)" text-anchor="end" fill="#111" stroke="#111">TaAMY10</text>
<text x="197.65" y="370.37" transform="rotate(275.28 197.65 370.37)" text-anchor="end" fill="#111" stroke="#111">TaAMY05</text>
<text x="189.79" y="369.42" transform="rotate(278.27 189.79 369.42)" text-anchor="end" fill="#111" stroke="#111">HvAMY04</text>
<text x="182" y="368.07" transform="rotate(281.26 182 368.07)" text-anchor="end" fill="#f04a42" stroke="#f04a42">MaAMY12</text>
<text x="174.28" y="366.3" transform="rotate(284.25 174.28 366.3)" text-anchor="end" fill="#f04a42" stroke="#f04a42">MaAMY10</text>
<text x="166.67" y="364.13" transform="rotate(287.24 166.67 364.13)" text-anchor="end" fill="#f04a42" stroke="#f04a42">MaAMY02</text>
<text x="159.18" y="361.56" transform="rotate(290.23 159.18 361.56)" text-anchor="end" fill="#f04a42" stroke="#f04a42">MaAMY03</text>
<text x="151.83" y="358.59" transform="rotate(293.22 151.83 358.59)" text-anchor="end" fill="#f04a42" stroke="#f04a42">MaAMY08</text>
<text x="144.64" y="355.24" transform="rotate(296.21 144.64 355.24)" text-anchor="end" fill="#f04a42" stroke="#f04a42">MaAMY09</text>
<text x="137.64" y="351.52" transform="rotate(299.2 137.64 351.52)" text-anchor="end" fill="#f04a42" stroke="#f04a42">MaAMY01</text>
<text x="130.84" y="347.44" transform="rotate(302.19 130.84 347.44)" text-anchor="end" fill="#f04a42" stroke="#f04a42">MaAMY07</text>
<text x="124.26" y="343" transform="rotate(305.18 124.26 343)" text-anchor="end" fill="#111" stroke="#111">TaAMY13</text>
<text x="117.91" y="338.22" transform="rotate(308.17 117.91 338.22)" text-anchor="end" fill="#111" stroke="#111">TaAMY06</text>
<text x="111.82" y="333.11" transform="rotate(311.16 111.82 333.11)" text-anchor="end" fill="#111" stroke="#111">OsAMY08</text>
<text x="106" y="327.68" transform="rotate(314.15 106 327.68)" text-anchor="end" fill="#111" stroke="#111">OsAMY06</text>
<text x="100.47" y="321.96" transform="rotate(317.14 100.47 321.96)" text-anchor="end" fill="#111" stroke="#111">SiAMY08</text>
<text x="95.25" y="315.95" transform="rotate(320.13 95.25 315.95)" text-anchor="end" fill="#111" stroke="#111">SbAMY08</text>
<text x="90.34" y="309.67" transform="rotate(323.12 90.34 309.67)" text-anchor="end" fill="#111" stroke="#111">OsAMY10</text>
<text x="85.76" y="303.15" transform="rotate(326.11 85.76 303.15)" text-anchor="end" fill="#111" stroke="#111">OsAMY07</text>
<text x="81.52" y="296.39" transform="rotate(329.1 81.52 296.39)" text-anchor="end" fill="#111" stroke="#111">ZmAMY03</text>
<text x="77.63" y="289.41" transform="rotate(332.09 77.63 289.41)" text-anchor="end" fill="#111" stroke="#111">SbAMY03</text>
<text x="74.11" y="282.24" transform="rotate(335.08 74.11 282.24)" text-anchor="end" fill="#111" stroke="#111">PhAMY04</text>
<text x="70.97" y="274.9" transform="rotate(338.07 70.97 274.9)" text-anchor="end" fill="#111" stroke="#111">SiAMY10</text>
<text x="68.21" y="267.4" transform="rotate(341.06 68.21 267.4)" text-anchor="end" fill="#111" stroke="#111">SiAMY03</text>
<text x="65.84" y="259.76" transform="rotate(344.05 65.84 259.76)" text-anchor="end" fill="#111" stroke="#111">PhAMY03</text>
<text x="63.86" y="252.01" transform="rotate(347.04 63.86 252.01)" text-anchor="end" fill="#111" stroke="#111">OsAMY01</text>
<text x="62.29" y="244.16" transform="rotate(350.03 62.29 244.16)" text-anchor="end" fill="#111" stroke="#111">BdAMY01</text>
<text x="61.12" y="236.24" transform="rotate(353.02 61.12 236.24)" text-anchor="end" fill="#111" stroke="#111">TaAMY08</text>
<text x="60.37" y="228.28" transform="rotate(356.01 60.37 228.28)" text-anchor="end" fill="#111" stroke="#111">HvAMY01</text>
<text x="60.02" y="220.28" transform="rotate(359 60.02 220.28)" text-anchor="end" fill="#111" stroke="#111">OsAMY03</text>
<text x="60.09" y="212.27" transform="rotate(361.99 60.09 212.27)" text-anchor="end" fill="#111" stroke="#111">OsAMY02</text>
<text x="60.57" y="204.28" transform="rotate(364.98 60.57 204.28)" text-anchor="end" fill="#111" stroke="#111">TaAMY12</text>
<text x="61.46" y="196.33" transform="rotate(367.97 61.46 196.33)" text-anchor="end" fill="#111" stroke="#111">SiAMY04</text>
<text x="62.77" y="188.43" transform="rotate(370.96 62.77 188.43)" text-anchor="end" fill="#111" stroke="#111">ZmAMY09</text>
<text x="64.47" y="180.61" transform="rotate(373.95 64.47 180.61)" text-anchor="end" fill="#111" stroke="#111">ZmAMY04</text>
<text x="66.58" y="172.9" transform="rotate(376.94 66.58 172.9)" text-anchor="end" fill="#111" stroke="#111">SbAMY06</text>
<text x="69.08" y="165.3" transform="rotate(379.93 69.08 165.3)" text-anchor="end" fill="#111" stroke="#111">SbAMY05</text>
</g>
<text x="5.6" y="14.9" font-size="12" fill="#111" stroke="#111" stroke-width="0.3">A</text>
<text x="0" y="0" font-size="9.2" fill="#111" transform="translate(64,84) rotate(-48)" text-anchor="middle" dominant-baseline="central">Group I</text>
<text x="0" y="0" font-size="9.2" fill="#111" transform="translate(260,21.5) rotate(12.5)" text-anchor="middle" dominant-baseline="central">Group II</text>
<text x="208" y="420" font-size="9.2" fill="#111" text-anchor="middle">Group III</text>
<text x="0" y="0" transform="translate(434,48.2) scale(0.93,1)" font-size="10.3" fill="#1a1a1a" stroke="#1a1a1a" stroke-width="0.1">Species</text>
<line x1="434" y1="53" x2="530" y2="53" stroke="#555" stroke-width="1"/>
<circle cx="439.5" cy="61.2" r="5" fill="#f4a4a4" stroke="#555" stroke-width="0.6"/>
<text x="0" y="0" transform="translate(449.5,64.6) scale(0.94,1)" font-size="9.9" font-style="italic" fill="#1a1a1a" stroke="#1a1a1a" stroke-width="0.12">Musa acuminata</text>
<circle cx="439.5" cy="76.4" r="5" fill="#f5c400" stroke="#555" stroke-width="0.6"/>
<text x="0" y="0" transform="translate(449.5,79.8) scale(0.94,1)" font-size="9.9" font-style="italic" fill="#1a1a1a" stroke="#1a1a1a" stroke-width="0.12">Oryza sativa</text>
<circle cx="439.5" cy="91.6" r="5" fill="#b9d3ee" stroke="#555" stroke-width="0.6"/>
<text x="0" y="0" transform="translate(449.5,95) scale(0.94,1)" font-size="9.9" font-style="italic" fill="#1a1a1a" stroke="#1a1a1a" stroke-width="0.12">Zea mays</text>
<circle cx="439.5" cy="106.8" r="5" fill="#5b86bd" stroke="#555" stroke-width="0.6"/>
<text x="0" y="0" transform="translate(449.5,110.2) scale(0.94,1)" font-size="9.9" font-style="italic" fill="#1a1a1a" stroke="#1a1a1a" stroke-width="0.12">Solanum tuberosum</text>
<circle cx="439.5" cy="122" r="5" fill="#fbe2b2" stroke="#555" stroke-width="0.6"/>
<text x="0" y="0" transform="translate(449.5,125.4) scale(0.94,1)" font-size="9.9" font-style="italic" fill="#1a1a1a" stroke="#1a1a1a" stroke-width="0.12">Triticum aestivum</text>
<circle cx="439.5" cy="137.2" r="5" fill="#2bbcbc" stroke="#555" stroke-width="0.6"/>
<text x="0" y="0" transform="translate(449.5,140.6) scale(0.94,1)" font-size="9.9" font-style="italic" fill="#1a1a1a" stroke="#1a1a1a" stroke-width="0.12">Hordeum vulgare</text>
<circle cx="439.5" cy="152.4" r="5" fill="#7d73b8" stroke="#555" stroke-width="0.6"/>
<text x="0" y="0" transform="translate(449.5,155.8) scale(0.94,1)" font-size="9.9" font-style="italic" fill="#1a1a1a" stroke="#1a1a1a" stroke-width="0.12">Brachypodium distachyon</text>
<circle cx="439.5" cy="167.6" r="5" fill="#6fa782" stroke="#555" stroke-width="0.6"/>
<text x="0" y="0" transform="translate(449.5,171) scale(0.94,1)" font-size="9.9" font-style="italic" fill="#1a1a1a" stroke="#1a1a1a" stroke-width="0.12">Setaria italica</text>
<circle cx="439.5" cy="182.8" r="5" fill="#d99a98" stroke="#555" stroke-width="0.6"/>
<text x="0" y="0" transform="translate(449.5,186.2) scale(0.94,1)" font-size="9.9" font-style="italic" fill="#1a1a1a" stroke="#1a1a1a" stroke-width="0.12">Solanum lycopersicum</text>
<circle cx="439.5" cy="198" r="5" fill="#1a4480" stroke="#555" stroke-width="0.6"/>
<text x="0" y="0" transform="translate(449.5,201.4) scale(0.94,1)" font-size="9.9" font-style="italic" fill="#1a1a1a" stroke="#1a1a1a" stroke-width="0.12">Capsicum annuum</text>
<circle cx="439.5" cy="213.2" r="5" fill="#16a07e" stroke="#555" stroke-width="0.6"/>
<text x="0" y="0" transform="translate(449.5,216.6) scale(0.94,1)" font-size="9.9" font-style="italic" fill="#1a1a1a" stroke="#1a1a1a" stroke-width="0.12">Sorghum bicolor</text>
<circle cx="439.5" cy="228.4" r="5" fill="#f06a40" stroke="#555" stroke-width="0.6"/>
<text x="0" y="0" transform="translate(449.5,231.8) scale(0.94,1)" font-size="9.9" font-style="italic" fill="#1a1a1a" stroke="#1a1a1a" stroke-width="0.12">Panicum hallii</text>
<circle cx="439.5" cy="243.6" r="5" fill="#c8e090" stroke="#555" stroke-width="0.6"/>
<text x="0" y="0" transform="translate(449.5,247) scale(0.94,1)" font-size="9.9" font-style="italic" fill="#1a1a1a" stroke="#1a1a1a" stroke-width="0.12">Arabidopsis thaliana</text>
<text x="6.6" y="433.7" font-size="11.6" fill="#111" stroke="#111" stroke-width="0.35">B</text>
<g stroke="#e8e8e8" stroke-width="0.7"><line x1="52.3" y1="435" x2="52.3" y2="697.4"/><line x1="81.07" y1="435" x2="81.07" y2="697.4"/><line x1="109.84" y1="435" x2="109.84" y2="697.4"/><line x1="138.61" y1="435" x2="138.61" y2="697.4"/><line x1="167.38" y1="435" x2="167.38" y2="697.4"/><line x1="196.15" y1="435" x2="196.15" y2="697.4"/><line x1="224.92" y1="435" x2="224.92" y2="697.4"/><line x1="253.69" y1="435" x2="253.69" y2="697.4"/><line x1="282.46" y1="435" x2="282.46" y2="697.4"/><line x1="311.23" y1="435" x2="311.23" y2="697.4"/><line x1="340" y1="435" x2="340" y2="697.4"/><line x1="368.77" y1="435" x2="368.77" y2="697.4"/><line x1="397.54" y1="435" x2="397.54" y2="697.4"/><line x1="35" y1="684.9" x2="415" y2="684.9"/><line x1="35" y1="640.35" x2="415" y2="640.35"/><line x1="35" y1="595.8" x2="415" y2="595.8"/><line x1="35" y1="551.25" x2="415" y2="551.25"/><line x1="35" y1="506.7" x2="415" y2="506.7"/><line x1="35" y1="462.15" x2="415" y2="462.15"/></g>
<text x="31.2" y="688" font-size="9" text-anchor="end" fill="#333">0</text>
<text x="31.2" y="598.9" font-size="9" text-anchor="end" fill="#333">1</text>
<text x="31.2" y="509.8" font-size="9" text-anchor="end" fill="#333">2</text>
<text x="0" y="0" font-size="9.4" fill="#222" transform="translate(19.5,557) rotate(-90)" text-anchor="middle">Ka/Ks ratio</text>
<text x="0" y="0" font-size="10.4" text-anchor="middle" fill="#222" transform="translate(225.6,712.9) scale(0.895,1)">Boxplot with scatter points of Ka/Ks values by species</text>
<g stroke="#a8bb7c" stroke-width="0.75"><rect x="40.9" y="635.27" width="22.8" height="7.75" fill="none"/><line x1="40.9" y1="641.24" x2="63.7" y2="641.24" stroke-width="1.15"/></g>
<g fill="#a8bb7c" fill-opacity="0.75"><circle cx="48.5" cy="633.22" r="1.75"/><circle cx="55.7" cy="631.44" r="1.75"/><circle cx="52.5" cy="643.02" r="1.75"/><circle cx="51.4" cy="671.53" r="1.75"/></g>
<g stroke="#55559c" stroke-width="0.75"><line x1="81.07" y1="635.98" x2="81.07" y2="622.53"/><line x1="81.07" y1="671.27" x2="81.07" y2="681.34"/><rect x="69.67" y="635.98" width="22.8" height="35.28" fill="none"/><line x1="69.67" y1="667.08" x2="92.47" y2="667.08" stroke-width="1.15"/></g>
<g fill="#55559c" fill-opacity="0.95"><circle cx="80.8" cy="623.15" r="1.75"/><circle cx="76.5" cy="628.14" r="1.75"/><circle cx="83.4" cy="628.14" r="1.75"/><circle cx="74.9" cy="632.51" r="1.75"/><circle cx="81.3" cy="632.51" r="1.75"/><circle cx="76.5" cy="636.88" r="1.75"/><circle cx="85.6" cy="636.88" r="1.75"/><circle cx="83.4" cy="651.49" r="1.75"/><circle cx="85.6" cy="651.93" r="1.75"/><circle cx="72.5" cy="667.88" r="1.75"/><circle cx="77.5" cy="668.95" r="1.75"/><circle cx="81.3" cy="667.88" r="1.75"/><circle cx="75.4" cy="672.25" r="1.75"/><circle cx="76.5" cy="672.87" r="1.75"/><circle cx="77.5" cy="682.05" r="1.75"/><circle cx="79.7" cy="681.6" r="1.75"/><circle cx="74" cy="670.64" r="1.75"/><circle cx="79" cy="667.08" r="1.75"/></g>
<g stroke="#f4a2d2" stroke-width="0.75"><line x1="109.84" y1="528.08" x2="109.84" y2="447"/><line x1="109.84" y1="663.52" x2="109.84" y2="683.12"/><rect x="98.44" y="528.08" width="22.8" height="135.43" fill="none"/><line x1="98.44" y1="634.11" x2="121.24" y2="634.11" stroke-width="1.15"/></g>
<g fill="#f4a2d2" fill-opacity="0.75"><circle cx="105" cy="447" r="1.75"/><circle cx="104" cy="506.7" r="1.75"/><circle cx="115" cy="517.39" r="1.75"/><circle cx="108.5" cy="569.07" r="1.75"/><circle cx="105.9" cy="633.22" r="1.75"/><circle cx="111.4" cy="635" r="1.75"/><circle cx="110.3" cy="662.62" r="1.75"/><circle cx="110.3" cy="665.3" r="1.75"/><circle cx="115.7" cy="673.32" r="1.75"/><circle cx="114" cy="682.23" r="1.75"/></g>
<g stroke="#f58a3a" stroke-width="0.75"><rect x="127.21" y="670.29" width="22.8" height="11.49" fill="none"/><line x1="127.21" y1="676.88" x2="150.01" y2="676.88" stroke-width="1.15"/></g>
<g fill="#f58a3a" fill-opacity="0.95"><circle cx="139.3" cy="628.77" r="1.75"/><circle cx="134.3" cy="637.68" r="1.75"/><circle cx="140.8" cy="634.11" r="1.75"/><circle cx="143.4" cy="635.89" r="1.75"/><circle cx="140.2" cy="643.02" r="1.75"/><circle cx="133.02" cy="681.52" r="1.75"/><circle cx="131.77" cy="676.39" r="1.75"/><circle cx="136.46" cy="678.43" r="1.75"/><circle cx="138.73" cy="683.85" r="1.75"/><circle cx="137.55" cy="683.93" r="1.75"/><circle cx="132.06" cy="683.79" r="1.75"/><circle cx="143.84" cy="680.16" r="1.75"/><circle cx="134.18" cy="683.47" r="1.75"/><circle cx="145.77" cy="676.82" r="1.75"/><circle cx="136.96" cy="677.72" r="1.75"/><circle cx="131.36" cy="669.43" r="1.75"/><circle cx="135.24" cy="672.14" r="1.75"/><circle cx="132.49" cy="683.33" r="1.75"/><circle cx="143.67" cy="681.7" r="1.75"/><circle cx="139.92" cy="683.03" r="1.75"/><circle cx="136.57" cy="676.61" r="1.75"/><circle cx="131.61" cy="678.23" r="1.75"/><circle cx="133.91" cy="683.84" r="1.75"/><circle cx="137.45" cy="675.83" r="1.75"/><circle cx="139.98" cy="681.63" r="1.75"/></g>
<g stroke="#f46c12" stroke-width="0.75"><line x1="167.38" y1="658.17" x2="167.38" y2="643.91"/><line x1="167.38" y1="673.32" x2="167.38" y2="683.12"/><rect x="155.98" y="658.17" width="22.8" height="15.15" fill="none"/><line x1="155.98" y1="668.86" x2="178.78" y2="668.86" stroke-width="1.15"/></g>
<g fill="#f46c12" fill-opacity="0.95"><circle cx="164.6" cy="624.31" r="1.75"/><circle cx="163" cy="633.22" r="1.75"/><circle cx="170" cy="631.44" r="1.75"/><circle cx="168" cy="635.89" r="1.75"/><circle cx="172" cy="638.57" r="1.75"/><circle cx="166" cy="641.24" r="1.75"/><circle cx="164.18" cy="673.21" r="1.75"/><circle cx="170.56" cy="657.5" r="1.75"/><circle cx="168.57" cy="680" r="1.75"/><circle cx="173.38" cy="670.34" r="1.75"/><circle cx="163.99" cy="660.88" r="1.75"/><circle cx="161.27" cy="646.9" r="1.75"/><circle cx="171.49" cy="674.52" r="1.75"/><circle cx="167.2" cy="682.13" r="1.75"/><circle cx="170.07" cy="683.79" r="1.75"/><circle cx="168.55" cy="659.07" r="1.75"/><circle cx="164.4" cy="653.04" r="1.75"/><circle cx="168.89" cy="662.59" r="1.75"/><circle cx="166.68" cy="667.99" r="1.75"/><circle cx="174.49" cy="655.02" r="1.75"/><circle cx="170.01" cy="672.4" r="1.75"/><circle cx="170.6" cy="683.58" r="1.75"/><circle cx="175.27" cy="664.91" r="1.75"/><circle cx="163.93" cy="656.01" r="1.75"/><circle cx="170.08" cy="675.66" r="1.75"/><circle cx="166.77" cy="683.92" r="1.75"/><circle cx="161.25" cy="681.8" r="1.75"/><circle cx="171.67" cy="683.6" r="1.75"/><circle cx="163.34" cy="682.56" r="1.75"/><circle cx="173.32" cy="675.48" r="1.75"/><circle cx="166.57" cy="683.33" r="1.75"/><circle cx="173.51" cy="669.31" r="1.75"/><circle cx="173.2" cy="656.16" r="1.75"/><circle cx="166.02" cy="679.06" r="1.75"/><circle cx="173.53" cy="676.58" r="1.75"/><circle cx="161.79" cy="648.25" r="1.75"/><circle cx="163.09" cy="681.63" r="1.75"/><circle cx="167.14" cy="680.28" r="1.75"/><circle cx="163.58" cy="667.58" r="1.75"/><circle cx="166.08" cy="684" r="1.75"/><circle cx="168.44" cy="676.23" r="1.75"/><circle cx="170.43" cy="648.53" r="1.75"/><circle cx="169.26" cy="670.74" r="1.75"/><circle cx="160.24" cy="663.52" r="1.75"/><circle cx="171.86" cy="651.67" r="1.75"/><circle cx="172.15" cy="653.09" r="1.75"/></g>
<g stroke="#ababab" stroke-width="0.75"><rect x="184.75" y="679.82" width="22.8" height="2.85" fill="none"/><line x1="184.75" y1="681.34" x2="207.55" y2="681.34" stroke-width="1.15"/></g>
<g fill="#ababab" fill-opacity="0.75"><circle cx="201.9" cy="620.3" r="1.75"/><circle cx="194.7" cy="627.88" r="1.75"/><circle cx="198.4" cy="635" r="1.75"/><circle cx="197.6" cy="642.13" r="1.75"/><circle cx="194.7" cy="652.82" r="1.75"/><circle cx="200.2" cy="665.74" r="1.75"/><circle cx="191.9" cy="673.76" r="1.75"/><circle cx="194.33" cy="682.67" r="1.75"/><circle cx="198.57" cy="683.46" r="1.75"/><circle cx="188.36" cy="683.52" r="1.75"/><circle cx="190.07" cy="683.24" r="1.75"/><circle cx="188.1" cy="682.85" r="1.75"/><circle cx="189.87" cy="683.56" r="1.75"/><circle cx="193.69" cy="683.46" r="1.75"/><circle cx="202.89" cy="683.55" r="1.75"/><circle cx="189.82" cy="681.73" r="1.75"/><circle cx="193.4" cy="683.12" r="1.75"/><circle cx="189.36" cy="682.77" r="1.75"/><circle cx="205.03" cy="680.48" r="1.75"/><circle cx="195.86" cy="682.38" r="1.75"/><circle cx="188.99" cy="683.48" r="1.75"/></g>
<g stroke="#701424" stroke-width="0.75"><line x1="224.92" y1="667.08" x2="224.92" y2="665.3"/><line x1="224.92" y1="677.24" x2="224.92" y2="678.66"/><rect x="213.52" y="667.08" width="22.8" height="10.16" fill="none"/><line x1="213.52" y1="672.43" x2="236.32" y2="672.43" stroke-width="1.15"/></g>
<g fill="#701424" fill-opacity="0.95"><circle cx="219.4" cy="619.86" r="1.75"/><circle cx="230.7" cy="631.44" r="1.75"/><circle cx="219.4" cy="647.48" r="1.75"/><circle cx="221.16" cy="676.99" r="1.75"/><circle cx="219.5" cy="669" r="1.75"/><circle cx="232.14" cy="679.52" r="1.75"/><circle cx="219.27" cy="674.42" r="1.75"/><circle cx="217.35" cy="674.18" r="1.75"/><circle cx="232.58" cy="674.42" r="1.75"/><circle cx="228.06" cy="668.29" r="1.75"/><circle cx="222.79" cy="677.89" r="1.75"/><circle cx="229.27" cy="678.74" r="1.75"/><circle cx="229.38" cy="674.35" r="1.75"/><circle cx="220.49" cy="677.14" r="1.75"/><circle cx="232.68" cy="669.35" r="1.75"/><circle cx="229.82" cy="668.51" r="1.75"/><circle cx="228.76" cy="669.21" r="1.75"/></g>
<g stroke="#108a18" stroke-width="0.75"><line x1="253.69" y1="669.31" x2="253.69" y2="665.3"/><line x1="253.69" y1="680.44" x2="253.69" y2="684.9"/><rect x="242.29" y="669.31" width="22.8" height="11.14" fill="none"/><line x1="242.29" y1="678.66" x2="265.09" y2="678.66" stroke-width="1.15"/></g>
<g fill="#108a18" fill-opacity="0.95"><circle cx="248.6" cy="624.31" r="1.75"/><circle cx="250.4" cy="640.35" r="1.75"/><circle cx="258.7" cy="637.23" r="1.75"/><circle cx="254.01" cy="683.08" r="1.75"/><circle cx="245.21" cy="681.15" r="1.75"/><circle cx="249.72" cy="684.84" r="1.75"/><circle cx="257.16" cy="682.64" r="1.75"/><circle cx="252.74" cy="666.64" r="1.75"/><circle cx="262.47" cy="667.24" r="1.75"/><circle cx="251.25" cy="666.69" r="1.75"/><circle cx="248.77" cy="683.16" r="1.75"/><circle cx="248.37" cy="683.45" r="1.75"/><circle cx="260.9" cy="675.68" r="1.75"/><circle cx="253.32" cy="670.06" r="1.75"/><circle cx="259.08" cy="674.99" r="1.75"/><circle cx="256.58" cy="684.52" r="1.75"/><circle cx="258.77" cy="668.05" r="1.75"/><circle cx="253.29" cy="672.53" r="1.75"/><circle cx="258.89" cy="683.66" r="1.75"/><circle cx="259.1" cy="681.53" r="1.75"/><circle cx="251.82" cy="666.18" r="1.75"/><circle cx="261.73" cy="680.35" r="1.75"/><circle cx="247.75" cy="673.19" r="1.75"/><circle cx="247.41" cy="684.18" r="1.75"/><circle cx="259.21" cy="668.2" r="1.75"/></g>
<g stroke="#1a8cb2" stroke-width="0.75"><line x1="282.46" y1="667.08" x2="282.46" y2="651.93"/><line x1="282.46" y1="680.98" x2="282.46" y2="684.9"/><rect x="271.06" y="667.08" width="22.8" height="13.9" fill="none"/><line x1="271.06" y1="677.77" x2="293.86" y2="677.77" stroke-width="1.15"/></g>
<g fill="#1a8cb2" fill-opacity="0.95"><circle cx="280" cy="626.54" r="1.75"/><circle cx="287.4" cy="627.88" r="1.75"/><circle cx="282.7" cy="626.99" r="1.75"/><circle cx="277.3" cy="635.89" r="1.75"/><circle cx="286.3" cy="635.45" r="1.75"/><circle cx="278.6" cy="640.35" r="1.75"/><circle cx="288.2" cy="640.35" r="1.75"/><circle cx="281.4" cy="643.91" r="1.75"/><circle cx="285.5" cy="644.36" r="1.75"/><circle cx="286.3" cy="652.38" r="1.75"/><circle cx="287.68" cy="684.08" r="1.75"/><circle cx="284.98" cy="667.64" r="1.75"/><circle cx="283.24" cy="681.57" r="1.75"/><circle cx="274.69" cy="684.21" r="1.75"/><circle cx="284.85" cy="667.9" r="1.75"/><circle cx="289.4" cy="678.51" r="1.75"/><circle cx="288.41" cy="680.22" r="1.75"/><circle cx="277.84" cy="671.77" r="1.75"/><circle cx="279.15" cy="682.94" r="1.75"/><circle cx="283.84" cy="683.08" r="1.75"/><circle cx="281.16" cy="682.84" r="1.75"/><circle cx="289.02" cy="684.21" r="1.75"/><circle cx="281.79" cy="681.52" r="1.75"/><circle cx="288.93" cy="677.38" r="1.75"/><circle cx="289.14" cy="680.44" r="1.75"/><circle cx="282.97" cy="678.99" r="1.75"/><circle cx="274.76" cy="678.57" r="1.75"/><circle cx="277.39" cy="680.11" r="1.75"/><circle cx="287.25" cy="684.9" r="1.75"/><circle cx="282.04" cy="683.83" r="1.75"/><circle cx="283.36" cy="674.24" r="1.75"/><circle cx="282.75" cy="681.94" r="1.75"/><circle cx="287.01" cy="677.94" r="1.75"/><circle cx="283.42" cy="684.41" r="1.75"/><circle cx="278.89" cy="682.98" r="1.75"/><circle cx="282.58" cy="673.11" r="1.75"/></g>
<g stroke="#20c8b2" stroke-width="0.75"><rect x="299.83" y="668.86" width="22.8" height="4.19" fill="none"/><line x1="299.83" y1="671.53" x2="322.63" y2="671.53" stroke-width="1.15"/></g>
<g fill="#20c8b2" fill-opacity="0.95"><circle cx="305.9" cy="647.48" r="1.75"/><circle cx="314.9" cy="666.19" r="1.75"/><circle cx="315.39" cy="671.55" r="1.75"/><circle cx="310.32" cy="669.47" r="1.75"/><circle cx="311.32" cy="671.28" r="1.75"/><circle cx="314.31" cy="671.79" r="1.75"/><circle cx="311.76" cy="672.07" r="1.75"/><circle cx="318.29" cy="671.95" r="1.75"/></g>
<g stroke="#d4c232" stroke-width="0.75"><line x1="340" y1="636.34" x2="340" y2="620.75"/><line x1="340" y1="671.53" x2="340" y2="684.9"/><rect x="328.6" y="636.34" width="22.8" height="35.19" fill="none"/><line x1="328.6" y1="659.51" x2="351.4" y2="659.51" stroke-width="1.15"/></g>
<g fill="#d4c232" fill-opacity="0.95"><circle cx="338.6" cy="620.75" r="1.75"/><circle cx="345.4" cy="620.75" r="1.75"/><circle cx="343.5" cy="623.42" r="1.75"/><circle cx="336.4" cy="627.88" r="1.75"/><circle cx="337.3" cy="636.34" r="1.75"/><circle cx="340.8" cy="636.34" r="1.75"/><circle cx="342.2" cy="642.13" r="1.75"/><circle cx="337.3" cy="647.48" r="1.75"/><circle cx="345.4" cy="658.62" r="1.75"/><circle cx="334.5" cy="659.51" r="1.75"/><circle cx="337.3" cy="668.86" r="1.75"/><circle cx="338.6" cy="670.64" r="1.75"/><circle cx="343.5" cy="669.75" r="1.75"/><circle cx="343.5" cy="684.9" r="1.75"/></g>
<g stroke="#0e4088" stroke-width="0.75"><line x1="368.77" y1="677.77" x2="368.77" y2="673.32"/><line x1="368.77" y1="681.78" x2="368.77" y2="684.9"/><rect x="357.37" y="677.77" width="22.8" height="4.01" fill="none"/><line x1="357.37" y1="679.55" x2="380.17" y2="679.55" stroke-width="1.15"/></g>
<g fill="#0e4088" fill-opacity="0.95"><circle cx="364.5" cy="643.02" r="1.75"/><circle cx="371.9" cy="643.47" r="1.75"/><circle cx="368.1" cy="642.58" r="1.75"/><circle cx="365.4" cy="646.59" r="1.75"/><circle cx="371.9" cy="651.04" r="1.75"/><circle cx="375.55" cy="674.46" r="1.75"/><circle cx="364.44" cy="668.62" r="1.75"/><circle cx="376.75" cy="677.32" r="1.75"/><circle cx="362.24" cy="671.2" r="1.75"/><circle cx="367.73" cy="683.43" r="1.75"/><circle cx="364.1" cy="683.75" r="1.75"/><circle cx="371.82" cy="683.75" r="1.75"/><circle cx="375.92" cy="672.54" r="1.75"/><circle cx="372.66" cy="683.16" r="1.75"/><circle cx="362.34" cy="675.3" r="1.75"/><circle cx="377.19" cy="670.14" r="1.75"/><circle cx="376.92" cy="682.51" r="1.75"/><circle cx="368.54" cy="680.13" r="1.75"/><circle cx="374.75" cy="667.35" r="1.75"/><circle cx="367.54" cy="683.09" r="1.75"/><circle cx="365.87" cy="678.14" r="1.75"/><circle cx="365.5" cy="682.76" r="1.75"/><circle cx="360.12" cy="673.95" r="1.75"/><circle cx="367.7" cy="677.43" r="1.75"/><circle cx="365.74" cy="683.98" r="1.75"/><circle cx="368.99" cy="676.05" r="1.75"/><circle cx="377.5" cy="683.8" r="1.75"/><circle cx="377.26" cy="672.44" r="1.75"/><circle cx="364.55" cy="683.55" r="1.75"/><circle cx="373.79" cy="683.91" r="1.75"/><circle cx="362.1" cy="681.92" r="1.75"/><circle cx="376.18" cy="679.75" r="1.75"/><circle cx="364.42" cy="671.71" r="1.75"/></g>
<g stroke="#5b9444" stroke-width="0.75"><line x1="397.54" y1="635.45" x2="397.54" y2="617.18"/><line x1="397.54" y1="681.34" x2="397.54" y2="684.9"/><rect x="386.14" y="635.45" width="22.8" height="45.89" fill="none"/><line x1="386.14" y1="640.35" x2="408.94" y2="640.35" stroke-width="1.15"/></g>
<g fill="#5b9444" fill-opacity="0.95"><circle cx="394.5" cy="617.18" r="1.75"/><circle cx="400.5" cy="622.53" r="1.75"/><circle cx="402.7" cy="629.66" r="1.75"/><circle cx="395.9" cy="630.1" r="1.75"/><circle cx="399.2" cy="633.22" r="1.75"/><circle cx="393.2" cy="636.34" r="1.75"/><circle cx="395.4" cy="640.35" r="1.75"/><circle cx="393.7" cy="651.93" r="1.75"/><circle cx="394" cy="668.42" r="1.75"/><circle cx="398.6" cy="668.42" r="1.75"/><circle cx="391.8" cy="681.34" r="1.75"/><circle cx="398.6" cy="681.34" r="1.75"/></g>
<rect x="35" y="435" width="380" height="262.4" fill="none" stroke="#555" stroke-width="1.2"/>
<text x="0" y="0" transform="translate(423,487.2) scale(0.91,1)" font-size="10.1" fill="#1a1a1a" stroke="#1a1a1a" stroke-width="0.1">Species</text>
<g stroke="#a8bb7c" stroke-width="0.7" fill="none"><line x1="433" y1="491" x2="433" y2="502.6"/><rect x="428.2" y="493.4" width="9.5" height="6.8" fill="#fff"/><line x1="428.2" y1="496.8" x2="437.7" y2="496.8"/></g><circle cx="433" cy="496.8" r="1.3" fill="#a8bb7c"/>
<text x="0" y="0" transform="translate(442,500.3) scale(0.905,1)" font-size="10.1" font-style="italic" fill="#1a1a1a" stroke="#1a1a1a" stroke-width="0.12">Arabidopsis thaliana</text>
<g stroke="#55559c" stroke-width="0.7" fill="none"><line x1="433" y1="503.54" x2="433" y2="515.14"/><rect x="428.2" y="505.94" width="9.5" height="6.8" fill="#fff"/><line x1="428.2" y1="509.34" x2="437.7" y2="509.34"/></g><circle cx="433" cy="509.34" r="1.3" fill="#55559c"/>
<text x="0" y="0" transform="translate(442,512.84) scale(0.905,1)" font-size="10.1" font-style="italic" fill="#1a1a1a" stroke="#1a1a1a" stroke-width="0.12">Brachypodium distachyon</text>
<g stroke="#f4a2d2" stroke-width="0.7" fill="none"><line x1="433" y1="516.08" x2="433" y2="527.68"/><rect x="428.2" y="518.48" width="9.5" height="6.8" fill="#fff"/><line x1="428.2" y1="521.88" x2="437.7" y2="521.88"/></g><circle cx="433" cy="521.88" r="1.3" fill="#f4a2d2"/>
<text x="0" y="0" transform="translate(442,525.38) scale(0.905,1)" font-size="10.1" font-style="italic" fill="#1a1a1a" stroke="#1a1a1a" stroke-width="0.12">Capsicum annuum</text>
<g stroke="#f58a3a" stroke-width="0.7" fill="none"><line x1="433" y1="528.62" x2="433" y2="540.22"/><rect x="428.2" y="531.02" width="9.5" height="6.8" fill="#fff"/><line x1="428.2" y1="534.42" x2="437.7" y2="534.42"/></g><circle cx="433" cy="534.42" r="1.3" fill="#f58a3a"/>
<text x="0" y="0" transform="translate(442,537.92) scale(0.905,1)" font-size="10.1" font-style="italic" fill="#1a1a1a" stroke="#1a1a1a" stroke-width="0.12">Hordeum vulgare</text>
<g stroke="#f46c12" stroke-width="0.7" fill="none"><line x1="433" y1="541.16" x2="433" y2="552.76"/><rect x="428.2" y="543.56" width="9.5" height="6.8" fill="#fff"/><line x1="428.2" y1="546.96" x2="437.7" y2="546.96"/></g><circle cx="433" cy="546.96" r="1.3" fill="#f46c12"/>
<text x="0" y="0" transform="translate(442,550.46) scale(0.905,1)" font-size="10.1" font-style="italic" fill="#1a1a1a" stroke="#1a1a1a" stroke-width="0.12">Musa acuminata</text>
<g stroke="#ababab" stroke-width="0.7" fill="none"><line x1="433" y1="553.7" x2="433" y2="565.3"/><rect x="428.2" y="556.1" width="9.5" height="6.8" fill="#fff"/><line x1="428.2" y1="559.5" x2="437.7" y2="559.5"/></g><circle cx="433" cy="559.5" r="1.3" fill="#ababab"/>
<text x="0" y="0" transform="translate(442,563) scale(0.905,1)" font-size="10.1" font-style="italic" fill="#1a1a1a" stroke="#1a1a1a" stroke-width="0.12">Oryza sativa</text>
<g stroke="#701424" stroke-width="0.7" fill="none"><line x1="433" y1="566.24" x2="433" y2="577.84"/><rect x="428.2" y="568.64" width="9.5" height="6.8" fill="#fff"/><line x1="428.2" y1="572.04" x2="437.7" y2="572.04"/></g><circle cx="433" cy="572.04" r="1.3" fill="#701424"/>
<text x="0" y="0" transform="translate(442,575.54) scale(0.905,1)" font-size="10.1" font-style="italic" fill="#1a1a1a" stroke="#1a1a1a" stroke-width="0.12">Panicum hallii</text>
<g stroke="#108a18" stroke-width="0.7" fill="none"><line x1="433" y1="578.78" x2="433" y2="590.38"/><rect x="428.2" y="581.18" width="9.5" height="6.8" fill="#fff"/><line x1="428.2" y1="584.58" x2="437.7" y2="584.58"/></g><circle cx="433" cy="584.58" r="1.3" fill="#108a18"/>
<text x="0" y="0" transform="translate(442,588.08) scale(0.905,1)" font-size="10.1" font-style="italic" fill="#1a1a1a" stroke="#1a1a1a" stroke-width="0.12">Sorghum bicolor</text>
<g stroke="#1a8cb2" stroke-width="0.7" fill="none"><line x1="433" y1="591.32" x2="433" y2="602.92"/><rect x="428.2" y="593.72" width="9.5" height="6.8" fill="#fff"/><line x1="428.2" y1="597.12" x2="437.7" y2="597.12"/></g><circle cx="433" cy="597.12" r="1.3" fill="#1a8cb2"/>
<text x="0" y="0" transform="translate(442,600.62) scale(0.905,1)" font-size="10.1" font-style="italic" fill="#1a1a1a" stroke="#1a1a1a" stroke-width="0.12">Setaria italica</text>
<g stroke="#20c8b2" stroke-width="0.7" fill="none"><line x1="433" y1="603.86" x2="433" y2="615.46"/><rect x="428.2" y="606.26" width="9.5" height="6.8" fill="#fff"/><line x1="428.2" y1="609.66" x2="437.7" y2="609.66"/></g><circle cx="433" cy="609.66" r="1.3" fill="#20c8b2"/>
<text x="0" y="0" transform="translate(442,613.16) scale(0.905,1)" font-size="10.1" font-style="italic" fill="#1a1a1a" stroke="#1a1a1a" stroke-width="0.12">Solanum lycopersicum</text>
<g stroke="#d4c232" stroke-width="0.7" fill="none"><line x1="433" y1="616.4" x2="433" y2="628"/><rect x="428.2" y="618.8" width="9.5" height="6.8" fill="#fff"/><line x1="428.2" y1="622.2" x2="437.7" y2="622.2"/></g><circle cx="433" cy="622.2" r="1.3" fill="#d4c232"/>
<text x="0" y="0" transform="translate(442,625.7) scale(0.905,1)" font-size="10.1" font-style="italic" fill="#1a1a1a" stroke="#1a1a1a" stroke-width="0.12">Solanum tuberosum</text>
<g stroke="#0e4088" stroke-width="0.7" fill="none"><line x1="433" y1="628.94" x2="433" y2="640.54"/><rect x="428.2" y="631.34" width="9.5" height="6.8" fill="#fff"/><line x1="428.2" y1="634.74" x2="437.7" y2="634.74"/></g><circle cx="433" cy="634.74" r="1.3" fill="#0e4088"/>
<text x="0" y="0" transform="translate(442,638.24) scale(0.905,1)" font-size="10.1" font-style="italic" fill="#1a1a1a" stroke="#1a1a1a" stroke-width="0.12">Triticum aestivum</text>
<g stroke="#5b9444" stroke-width="0.7" fill="none"><line x1="433" y1="641.48" x2="433" y2="653.08"/><rect x="428.2" y="643.88" width="9.5" height="6.8" fill="#fff"/><line x1="428.2" y1="647.28" x2="437.7" y2="647.28"/></g><circle cx="433" cy="647.28" r="1.3" fill="#5b9444"/>
<text x="0" y="0" transform="translate(442,650.78) scale(0.905,1)" font-size="10.1" font-style="italic" fill="#1a1a1a" stroke="#1a1a1a" stroke-width="0.12">Zea mays</text>
</svg></body></html>
